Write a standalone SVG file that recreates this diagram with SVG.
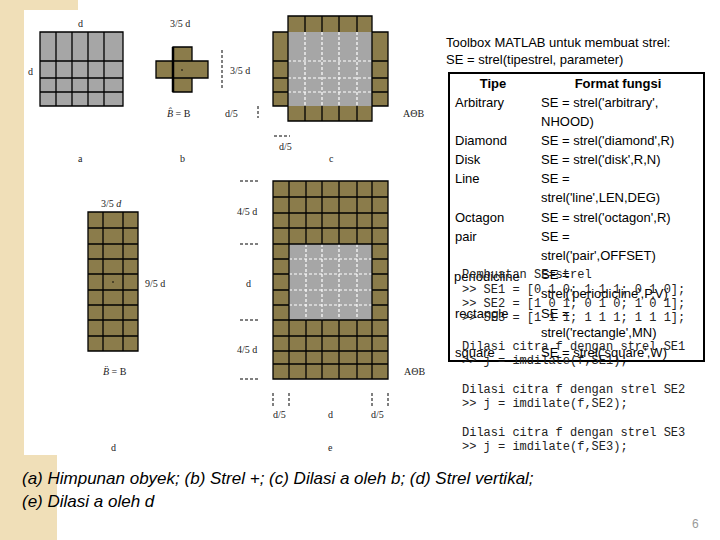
<svg xmlns="http://www.w3.org/2000/svg" width="720" height="540" viewBox="0 0 720 540">
<style>
.s{font-family:"Liberation Serif",serif;font-size:10px;fill:#222}
.a{font-family:"Liberation Sans",Arial,sans-serif;font-size:13px;fill:#000}
.m{font-family:"Liberation Mono",monospace;font-size:12px;fill:#222}
.g{stroke:#000;stroke-width:1.3;fill:none}
.w{stroke:#fff;stroke-width:1.2;stroke-dasharray:3 2;fill:none}
.k{stroke:#000;stroke-width:1;stroke-dasharray:3 2;fill:none}
.o{fill:#8b7c4b}.y{fill:#a6a6a6}
</style>
<rect width="720" height="540" fill="#fff"/>
<rect x="0" y="0" width="57" height="540" fill="#f0dfb8"/>
<rect x="0" y="0" width="78" height="10" fill="#f0dfb8"/>
<rect x="24" y="10" width="421" height="445" fill="#fff"/>
<g id="figA">
<rect x="40" y="32" width="83" height="74" class="y"/>
<path class="g" d="M40 32H123V106H40Z M56 32V106 M72 32V106 M88 32V106 M104 32V106 M40 61H123 M40 78H123 M40 92H123"/>
<text class="s" x="78" y="27">d</text><text class="s" x="28" y="75">d</text>
<text class="s" x="78" y="162">a</text>
</g>
<g id="figB">
<path class="o" d="M173 47H192V61H208V78H192V92H173V78H156V61H173Z"/>
<path class="g" d="M173 47H192V61H208V78H192V92H173V78H156V61H173Z M173 61H192M173 78H192"/>
<line x1="173" y1="47" x2="173" y2="92" stroke="#000" stroke-width="2.5"/>
<circle cx="182" cy="70" r="0.8" fill="#000"/>
<text class="s" x="170" y="27">3/5 d</text>
<line class="k" x1="222" y1="50" x2="222" y2="90"/>
<text class="s" x="230" y="74">3/5 d</text>
<text class="s" x="167" y="117"><tspan font-style="italic">B̂</tspan> = B</text>
<text class="s" x="225" y="117">d/5</text>
<line class="k" x1="258" y1="106" x2="258" y2="118"/>
<line class="k" x1="274" y1="136" x2="290" y2="136"/>
<text class="s" x="279" y="150">d/5</text>
<text class="s" x="180" y="162">b</text>
</g>
<g id="figC">
<rect x="288" y="16" width="84" height="105" class="o"/>
<rect x="273" y="32" width="115" height="74" class="o"/>
<rect x="288" y="32" width="84" height="74" class="y"/>
<path class="w" d="M305 32V106M322 32V106M339 32V106M357 32V106M288 61H372M288 78H372M288 92H372"/>
<path class="g" d="M288 16H372V32H388V106H372V121H288V106H273V32H288Z M305 16V32M322 16V32M339 16V32M357 16V32 M305 106V121M322 106V121M339 106V121M357 106V121 M288 32V106M372 32V106 M273 61H288M273 78H288M273 92H288M372 61H388M372 78H388M372 92H388"/>
<text class="s" x="403" y="117">AΘB</text>
<text class="s" x="329" y="162">c</text>
</g>
<g id="figD">
<rect x="88" y="212" width="50" height="139" class="o"/>
<path class="g" d="M88 212H138V351H88Z M103 212V351M123 212V351 M88 228H138M88 244H138M88 259H138M88 274H138M88 290H138M88 305H138M88 320H138M88 336H138"/>
<circle cx="113" cy="282" r="0.8" fill="#000"/>
<text class="s" x="101" y="207" >3/5 <tspan font-style="italic">d</tspan></text>
<text class="s" x="145" y="287">9/5 d</text>
<text class="s" x="103" y="375"><tspan font-style="italic">B̈</tspan> = B</text>
<text class="s" x="111" y="451">d</text>
</g>
<g id="figE">
<rect x="273" y="181" width="115" height="198" class="o"/>
<rect x="289" y="244" width="83" height="76" class="y"/>
<path class="w" d="M306 244V320M322 244V320M339 244V320M357 244V320M289 259H372M289 274H372M289 290H372M289 305H372"/>
<path class="g" d="M273 181H388V379H273Z M289 181V379M372 181V379 M306 181V244M322 181V244M339 181V244M357 181V244 M306 320V379M322 320V379M339 320V379M357 320V379 M273 197H388M273 213H388M273 228H388M273 244H388M273 259H289M273 274H289M273 290H289M273 305H289M372 259H388M372 274H388M372 290H388M372 305H388M273 320H388M273 336H388M273 351H388M273 364H388"/>
<path class="k" d="M240 181H260M240 244H260M240 320H260M240 379H260 M273 393V408M289 393V408M372 393V408M388 393V408"/>
<text class="s" x="237" y="215">4/5 d</text>
<text class="s" x="246" y="287">d</text>
<text class="s" x="237" y="353">4/5 d</text>
<text class="s" x="404" y="375">AΘB</text>
<text class="s" x="273" y="418">d/5</text><text class="s" x="328" y="418">d</text><text class="s" x="371" y="418">d/5</text>
<text class="s" x="328" y="451">e</text>
</g>
<g id="table">
<text class="a" x="446" y="47">Toolbox MATLAB untuk membuat strel:</text>
<text class="a" x="446" y="64">SE = strel(tipestrel, parameter)</text>
<rect x="449" y="73" width="255" height="288" fill="none" stroke="#000" stroke-width="2"/>
<text class="a" x="493" y="88" font-weight="bold" text-anchor="middle">Tipe</text>
<text class="a" x="618" y="88" font-weight="bold" text-anchor="middle">Format fungsi</text>
<text class="a" x="455" y="107">Arbitrary</text><text class="a" x="541" y="107">SE = strel('arbitrary',</text>
<text class="a" x="541" y="126">NHOOD)</text>
<text class="a" x="455" y="145">Diamond</text><text class="a" x="541" y="145">SE = strel('diamond',R)</text>
<text class="a" x="455" y="164">Disk</text><text class="a" x="541" y="164">SE = strel('disk',R,N)</text>
<text class="a" x="455" y="183">Line</text><text class="a" x="541" y="183">SE =</text>
<text class="a" x="541" y="202">strel('line',LEN,DEG)</text>
<text class="a" x="455" y="222">Octagon</text><text class="a" x="541" y="222">SE = strel('octagon',R)</text>
<text class="a" x="455" y="241">pair</text><text class="a" x="541" y="241">SE =</text>
<text class="a" x="541" y="260">strel('pair',OFFSET)</text>
<text class="a" x="454" y="281">periodicline</text><text class="a" x="541" y="279">SE =</text>
<text class="a" x="541" y="298">strel('periodicline',P,V)</text>
<text class="a" x="455" y="318">rectangle</text><text class="a" x="541" y="318">SE =</text>
<text class="a" x="541" y="337">strel('rectangle',MN)</text>
<text class="a" x="455" y="357">square</text><text class="a" x="541" y="357">SE = strel('square',W)</text>
</g>
<g id="code">
<text class="m" x="462" y="278">Pembuatan SE=strel</text>
<text class="m" x="462" y="293">&gt;&gt; SE1 = [0 1 0; 1 1 1; 0 1 0];</text>
<text class="m" x="462" y="307">&gt;&gt; SE2 = [1 0 1; 0 1 0; 1 0 1];</text>
<text class="m" x="462" y="321">&gt;&gt; SE3 = [1 1 1; 1 1 1; 1 1 1];</text>
<text class="m" x="462" y="350">Dilasi citra f dengan strel SE1</text>
<text class="m" x="462" y="364">&gt;&gt; j = imdilate(f,SE1);</text>
<text class="m" x="462" y="393">Dilasi citra f dengan strel SE2</text>
<text class="m" x="462" y="407">&gt;&gt; j = imdilate(f,SE2);</text>
<text class="m" x="462" y="436">Dilasi citra f dengan strel SE3</text>
<text class="m" x="462" y="450">&gt;&gt; j = imdilate(f,SE3);</text>
</g>
<text x="22" y="484" font-family="Liberation Sans,Arial,sans-serif" font-size="17" font-style="italic">(a) Himpunan obyek; (b) Strel +; (c) Dilasi a oleh b; (d) Strel vertikal;</text>
<text x="22" y="507" font-family="Liberation Sans,Arial,sans-serif" font-size="17" font-style="italic">(e) Dilasi a oleh d</text>
<text x="692" y="528" font-family="Liberation Sans,Arial,sans-serif" font-size="12" fill="#999">6</text>
</svg>
